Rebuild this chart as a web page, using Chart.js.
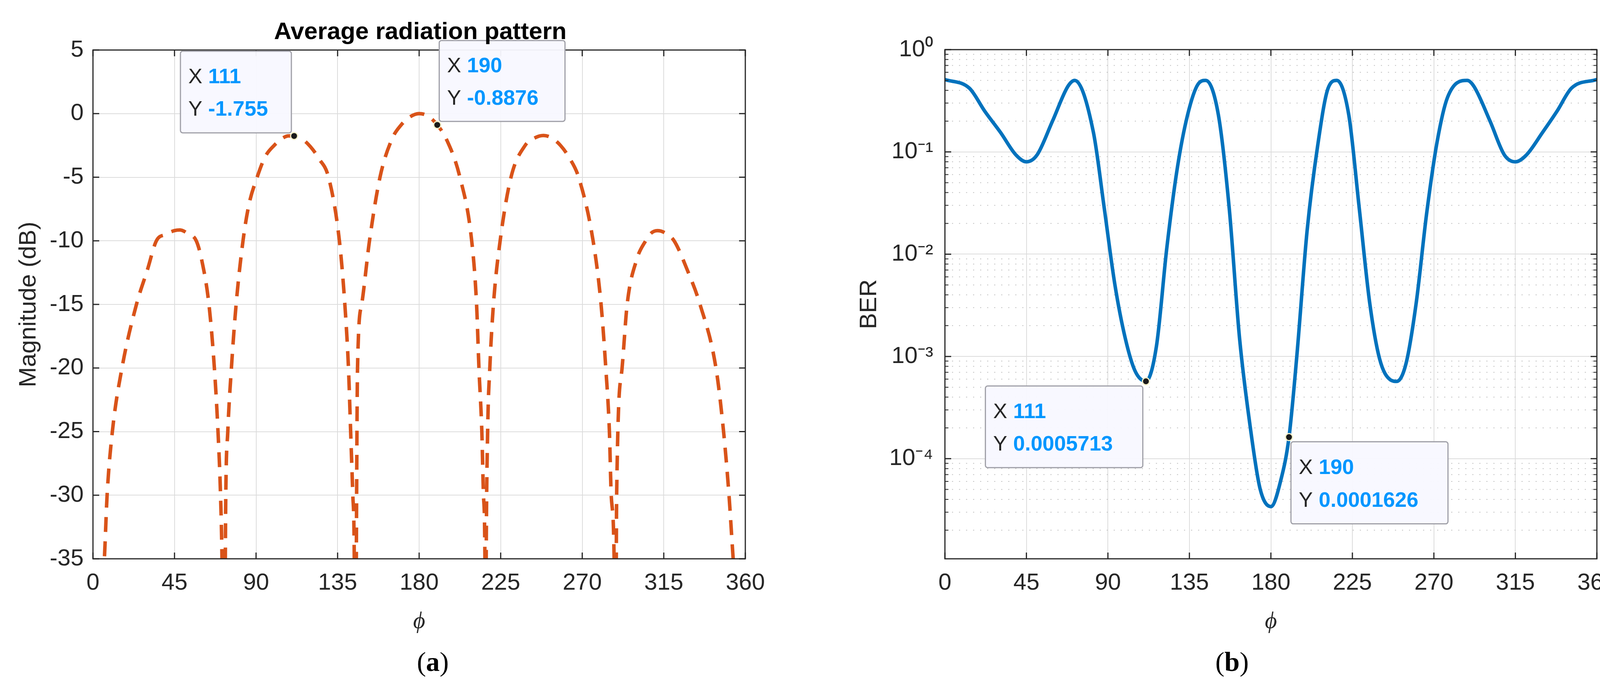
<!DOCTYPE html>
<html><head><meta charset="utf-8">
<script src="https://cdn.jsdelivr.net/npm/chart.js@4"></script>
<style>
html,body{margin:0;padding:0;background:#fff;width:4169px;height:1776px;overflow:hidden}
canvas{position:absolute;top:0}
</style></head><body>
<canvas id="c1" width="2080" height="1776" style="left:0;width:2080px;height:1776px"></canvas>
<canvas id="c2" width="2089" height="1776" style="left:2080px;width:2089px;height:1776px"></canvas>
<script>
// ---- data ----
const phiTicks = [0,45,90,135,180,225,270,315,360];
const magPhi = [0,3,6.3,7.8,10.7,16,24,30,35,40,45,48,52,57,60,64,67,69,70.4,71.2,72.3,
  73.3,74.4,76.4,79,82.8,86,90.6,95,100,105,108,111,115,120,125,130,136,139,141,142.2,143.4,144.2,
  144.6,146,148.3,152.6,158.4,165,170,175,180,185,190,195,202.5,209,211.7,213,214.6,215.5,216.3,216.6,
  217,217.8,219,221,224.7,230.7,238.5,244,248.6,253,258,263,268,276,280.4,283,285,286,287.6,288.3,
  289,292,294.8,300,305,308,311.5,316,320.7,328,335,343.8,348,351,353.3,357,360];
const magDb = [-50,-42,-35,-30,-25,-20,-15,-12.3,-10,-9.5,-9.2,-9.15,-9.4,-10,-11.5,-15,-20,-25,-30,-35,-50,
  -30,-25,-20,-15,-10,-7.2,-5,-3.4,-2.5,-1.9,-1.75,-1.76,-1.95,-2.6,-3.6,-5,-10,-15,-20,-25,-30,-35,
  -50,-20,-15,-10,-5,-2,-0.9,-0.25,0,-0.2,-0.8876,-2,-5,-10,-15,-20,-25,-30,-35,-50,
  -35,-25,-20,-15,-10,-5,-2.5,-1.9,-1.72,-1.9,-2.5,-3.5,-5,-10,-15,-20,-25,-30,-35,-50,
  -30,-20,-15,-11.5,-10,-9.4,-9.2,-9.4,-10,-12.3,-15,-20,-25,-30,-35,-42,-50];
const berPhi = [0,13.5,22,30.7,39.3,45,50.8,59.4,68,71.7,82,88,93.8,99.6,105,111,116.8,122.5,128.3,134,139.8,144,
  151,157,162.7,168.5,174,180,185.7,190,194.3,200,205.8,211.6,216.4,223,228.8,234.5,240,246,249.5,254.6,260.3,266,271.8,277.5,288.4,
  292,301,309,315,321,330,338,346,360];
const berVal = [0.51,0.42,0.25,0.155,0.093,0.08,0.093,0.2,0.44,0.5,0.155,0.028,5.1e-3,1.5e-3,7.2e-4,5.713e-4,1.26e-3,0.0114,0.069,0.23,0.46,0.5,
  0.23,0.028,1.5e-3,2.1e-4,5.1e-5,3.4e-5,6.4e-5,1.626e-4,1e-3,0.017,0.114,0.42,0.5,0.23,0.028,3.4e-3,9.5e-4,5.9e-4,5.7e-4,8.5e-4,3.4e-3,0.025,0.126,0.34,0.5,
  0.44,0.2,0.093,0.08,0.093,0.155,0.25,0.42,0.51];
const decades = [1,0.1,0.01,0.001,0.0001];
const decadeLabels = ['10⁰','10⁻¹','10⁻²','10⁻³','10⁻⁴'];
const magMarks = [{x:111,y:-1.755,xs:'111',ys:'-1.755'},{x:190,y:-0.8876,xs:'190',ys:'-0.8876'}];
const berMarks = [{x:111,y:0.0005713,xs:'111',ys:'0.0005713'},{x:190,y:0.0001626,xs:'190',ys:'0.0001626'}];

const SANS = '"Liberation Sans", Arial, sans-serif';
const SERIF = '"Liberation Serif", "DejaVu Serif", serif';
const INK = '#262626';

function box(ctx,x,y,w,h,xs,ys){
  ctx.save();
  ctx.beginPath();
  if(ctx.roundRect) ctx.roundRect(x,y,w,h,6); else ctx.rect(x,y,w,h);
  ctx.fillStyle='rgba(248,248,255,0.96)';ctx.fill();
  ctx.lineWidth=3;ctx.strokeStyle='#a0a0a8';ctx.stroke();
  ctx.textBaseline='middle';ctx.textAlign='left';
  const rows=[['X ',xs,y+h*0.32],['Y ',ys,y+h*0.72]];
  for(const r of rows){
    ctx.font='54px '+SANS;ctx.fillStyle=INK;ctx.fillText(r[0],x+20,r[2]);
    const w0=ctx.measureText(r[0]).width;
    ctx.font='bold 54px '+SANS;ctx.fillStyle='#0096ff';ctx.fillText(r[1],x+20+w0,r[2]);
  }
  ctx.restore();
}
function dot(ctx,x,y){
  ctx.save();ctx.beginPath();ctx.arc(x,y,9,0,Math.PI*2);
  ctx.fillStyle='#1a1a1a';ctx.fill();ctx.lineWidth=3;ctx.strokeStyle='#f5f0c8';ctx.stroke();ctx.restore();
}
function frame(chart,minorVals){
  const {ctx,chartArea:a,scales}=chart;
  ctx.save();
  ctx.strokeStyle=INK;ctx.lineWidth=3;
  ctx.strokeRect(a.left,a.top,a.right-a.left,a.bottom-a.top);
  for(const v of phiTicks){const px=scales.x.getPixelForValue(v);
    ctx.beginPath();ctx.moveTo(px,a.bottom);ctx.lineTo(px,a.bottom-16);ctx.moveTo(px,a.top);ctx.lineTo(px,a.top+16);ctx.stroke();}
  for(const t of scales.y.ticks){const py=scales.y.getPixelForValue(t.value);
    ctx.beginPath();ctx.moveTo(a.left,py);ctx.lineTo(a.left+16,py);ctx.moveTo(a.right,py);ctx.lineTo(a.right-16,py);ctx.stroke();}
  if(minorVals){ctx.lineWidth=2;
    for(const v of minorVals){const py=scales.y.getPixelForValue(v);
      ctx.beginPath();ctx.moveTo(a.left,py);ctx.lineTo(a.left+9,py);ctx.moveTo(a.right,py);ctx.lineTo(a.right-9,py);ctx.stroke();}}
  ctx.restore();
}
function texts(chart,o){
  const {ctx,chartArea:a}=chart;const cx=(a.left+a.right)/2;
  ctx.save();ctx.fillStyle=INK;ctx.textAlign='center';ctx.textBaseline='middle';
  ctx.font='italic 60px '+SERIF;ctx.fillText('ϕ',cx,1591);
  ctx.fillStyle='#000';
  const lbl=o.letter;ctx.font='70px '+SERIF;
  const wp=ctx.measureText('(').width,wr=ctx.measureText(')').width;
  ctx.font='bold 70px '+SERIF;const wl=ctx.measureText(lbl).width;
  let x0=o.letterX-(wp+wl+wr)/2;ctx.textAlign='left';
  ctx.font='70px '+SERIF;ctx.fillText('(',x0,1699);
  ctx.font='bold 70px '+SERIF;ctx.fillText(lbl,x0+wp,1699);
  ctx.font='70px '+SERIF;ctx.fillText(')',x0+wp+wl,1699);
  ctx.fillStyle=INK;ctx.textAlign='center';
  ctx.translate(o.yLabX,(a.top+a.bottom)/2);ctx.rotate(-Math.PI/2);
  ctx.font='62px '+SANS;ctx.fillText(o.yLab,0,0);
  ctx.restore();
  if(o.title){ctx.save();ctx.fillStyle='#000';ctx.font='bold 62px '+SANS;ctx.textAlign='center';ctx.textBaseline='middle';ctx.fillText(o.title,cx+3,83);ctx.restore();}
}

const tickFont={family:SANS,size:60};
function xAxis(){
  return {type:'linear',min:0,max:360,
    afterBuildTicks:s=>{s.ticks=phiTicks.map(v=>({value:v}));},
    afterFit:s=>{s.height=346;},
    ticks:{color:INK,font:tickFont,padding:26,maxRotation:0,autoSkip:false},
    grid:{color:'#dcdcdc',lineWidth:2,drawTicks:false},border:{display:false}};
}

// ---- left chart ----
new Chart(document.getElementById('c1'),{
  type:'line',
  data:{datasets:[{data:magPhi.map((p,i)=>({x:p,y:magDb[i]})),borderColor:'#D95319',borderWidth:9,
    borderDash:[38,24],pointRadius:0,cubicInterpolationMode:'monotone',fill:false}]},
  options:{responsive:false,animation:false,devicePixelRatio:1,
    layout:{padding:{top:128,right:172,left:0,bottom:0}},
    plugins:{legend:{display:false},tooltip:{enabled:false}},
    scales:{x:xAxis(),
      y:{min:-35,max:5,afterFit:s=>{s.width=238;},
        ticks:{stepSize:5,color:INK,font:tickFont,padding:24},
        grid:{color:'#dcdcdc',lineWidth:2,drawTicks:false},border:{display:false}}}},
  plugins:[{id:'d1',
    afterDatasetsDraw(chart){
      const {ctx,scales}=chart;frame(chart);
      const pts=magMarks.map(m=>({x:scales.x.getPixelForValue(m.x),y:scales.y.getPixelForValue(m.y),m}));
      pts.forEach(p=>dot(ctx,p.x,p.y));
      box(ctx,pts[0].x-291,pts[0].y-217,284,209,pts[0].m.xs,pts[0].m.ys);
      box(ctx,pts[1].x+5,pts[1].y-216,322,207,pts[1].m.xs,pts[1].m.ys);
      texts(chart,{letter:'a',letterX:1108,yLab:'Magnitude (dB)',yLabX:74,title:'Average radiation pattern'});
    }}]
});
// ---- right chart ----
const minors=[];for(const d of [1e-5,1e-4,1e-3,1e-2,1e-1])for(let k=2;k<=9;k++){const v=d*k;if(v>1.06e-5&&v<1)minors.push(v);}
new Chart(document.getElementById('c2'),{
  type:'line',
  data:{datasets:[{data:berPhi.map((p,i)=>({x:p,y:berVal[i]})),borderColor:'#0072BD',borderWidth:9,
    pointRadius:0,cubicInterpolationMode:'monotone',fill:false}]},
  options:{responsive:false,animation:false,devicePixelRatio:1,
    layout:{padding:{top:127,right:81,left:0,bottom:0}},
    plugins:{legend:{display:false},tooltip:{enabled:false}},
    scales:{x:xAxis(),
      y:{type:'logarithmic',min:1.05e-5,max:1,
        afterBuildTicks:s=>{s.ticks=decades.map(v=>({value:v}));},
        afterFit:s=>{s.width=339;},
        ticks:{color:INK,font:tickFont,padding:30,callback:(v)=>{const i=decades.indexOf(v);return i>=0?decadeLabels[i]:'';}},
        grid:{color:'#dcdcdc',lineWidth:2,drawTicks:false},border:{display:false}}}},
  plugins:[{id:'d2',
    beforeDatasetsDraw(chart){
      const {ctx,chartArea:a,scales}=chart;ctx.save();ctx.strokeStyle='#c4c4c4';ctx.lineWidth=2;ctx.setLineDash([3,15]);
      for(const v of minors){const py=scales.y.getPixelForValue(v);ctx.beginPath();ctx.moveTo(a.left,py);ctx.lineTo(a.right,py);ctx.stroke();}
      ctx.restore();
    },
    afterDatasetsDraw(chart){
      const {ctx,scales}=chart;frame(chart,minors);
      const pts=berMarks.map(m=>({x:scales.x.getPixelForValue(m.x),y:scales.y.getPixelForValue(m.y),m}));
      pts.forEach(p=>dot(ctx,p.x,p.y));
      box(ctx,pts[0].x-411,pts[0].y+12,403,209,pts[0].m.xs,pts[0].m.ys);
      box(ctx,pts[1].x+5,pts[1].y+12,402,210,pts[1].m.xs,pts[1].m.ys);
      texts(chart,{letter:'b',letterX:1074,yLab:'BER',yLabX:146});
    }}]
});
</script>
</body></html>
